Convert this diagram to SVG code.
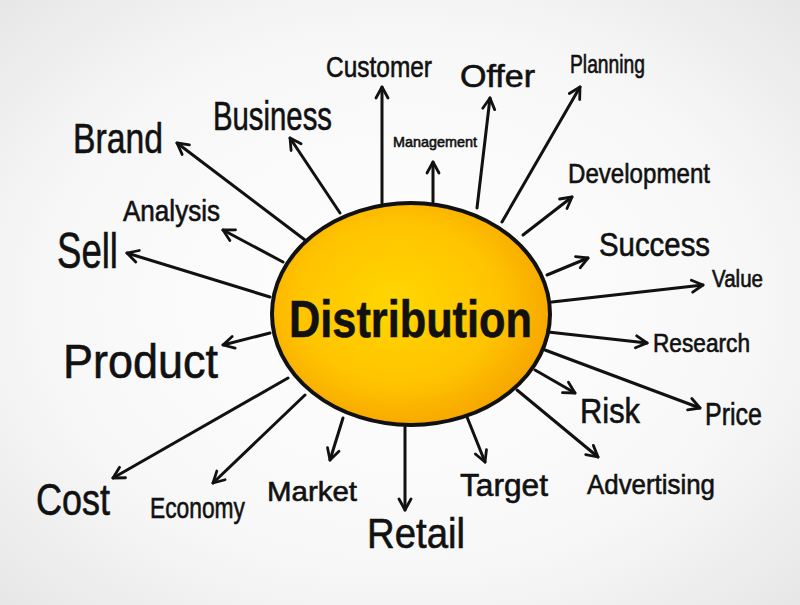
<svg xmlns="http://www.w3.org/2000/svg" width="800" height="605" viewBox="0 0 800 605">
<defs>
<radialGradient id="bg" cx="0.5" cy="0.5" r="0.75">
<stop offset="0" stop-color="#ffffff"/>
<stop offset="0.6" stop-color="#f7f7f7"/>
<stop offset="1" stop-color="#e4e4e4"/>
</radialGradient>
<radialGradient id="orb" cx="0.45" cy="0.45" r="0.6">
<stop offset="0" stop-color="#ffd600"/>
<stop offset="0.6" stop-color="#ffc400"/>
<stop offset="1" stop-color="#f5a200"/>
</radialGradient>
<marker id="ah" viewBox="0 0 16 16" markerWidth="16" markerHeight="16" refX="13" refY="8" orient="auto" markerUnits="userSpaceOnUse">
<path d="M2,2 L13,8 L2,14" fill="none" stroke="#111" stroke-width="2.8" stroke-linecap="round" stroke-linejoin="round"/>
</marker>
</defs>
<style>
.c line{stroke:#111;stroke-width:3;stroke-linecap:round;marker-end:url(#ah)}
text{font-family:"Liberation Sans","Open Sans",sans-serif;fill:#111;stroke:#111;stroke-width:0.6;lengthAdjust:spacingAndGlyphs}
</style>
<rect width="800" height="605" fill="url(#bg)"/>
<g class="c" id="connectors">
<line x1="305" y1="240" x2="177" y2="143"/>
<line x1="340" y1="213" x2="290" y2="138"/>
<line x1="382" y1="203" x2="382" y2="87"/>
<line x1="283" y1="262" x2="223" y2="230"/>
<line x1="270" y1="297" x2="127" y2="253"/>
<line x1="433" y1="202" x2="433" y2="162"/>
<line x1="477" y1="208" x2="490" y2="98"/>
<line x1="502" y1="222" x2="580" y2="87"/>
<line x1="523" y1="235" x2="572" y2="197"/>
<line x1="547" y1="275" x2="588" y2="258"/>
<line x1="552" y1="302" x2="703" y2="285"/>
<line x1="548" y1="332" x2="647" y2="343"/>
<line x1="545" y1="350" x2="700" y2="408"/>
<line x1="535" y1="370" x2="575" y2="393"/>
<line x1="517" y1="390" x2="598" y2="457"/>
<line x1="467" y1="417" x2="485" y2="462"/>
<line x1="405" y1="425" x2="405" y2="510"/>
<line x1="343" y1="418" x2="330" y2="460"/>
<line x1="305" y1="395" x2="213" y2="483"/>
<line x1="288" y1="378" x2="113" y2="478"/>
<line x1="270" y1="333" x2="223" y2="345"/>
</g>
<g id="center">
<ellipse cx="411" cy="314" rx="139" ry="111" fill="url(#orb)" stroke="#111" stroke-width="4"/>
<text x="289" y="337" font-size="52" font-weight="bold" textLength="243" lengthAdjust="spacingAndGlyphs">Distribution</text>
</g>
<g id="n-brand"><text x="73" y="153" font-size="42" textLength="90" lengthAdjust="spacingAndGlyphs">Brand</text></g>
<g id="n-business"><text x="213" y="130" font-size="40" textLength="119" lengthAdjust="spacingAndGlyphs">Business</text></g>
<g id="n-customer"><text x="326" y="77" font-size="30" textLength="106" lengthAdjust="spacingAndGlyphs">Customer</text></g>
<g id="n-management"><text x="393" y="147" font-size="15" textLength="84" lengthAdjust="spacingAndGlyphs">Management</text></g>
<g id="n-offer"><text x="460" y="87" font-size="31" textLength="75" lengthAdjust="spacingAndGlyphs">Offer</text></g>
<g id="n-planning"><text x="570" y="73" font-size="25" textLength="75" lengthAdjust="spacingAndGlyphs">Planning</text></g>
<g id="n-development"><text x="568" y="183" font-size="28" textLength="142" lengthAdjust="spacingAndGlyphs">Development</text></g>
<g id="n-success"><text x="599" y="256" font-size="34" textLength="111" lengthAdjust="spacingAndGlyphs">Success</text></g>
<g id="n-value"><text x="712" y="287" font-size="23" textLength="51" lengthAdjust="spacingAndGlyphs">Value</text></g>
<g id="n-analysis"><text x="123" y="221" font-size="29" textLength="97" lengthAdjust="spacingAndGlyphs">Analysis</text></g>
<g id="n-sell"><text x="57" y="268" font-size="50" textLength="61" lengthAdjust="spacingAndGlyphs">Sell</text></g>
<g id="n-product"><text x="63" y="378" font-size="48" textLength="155" lengthAdjust="spacingAndGlyphs">Product</text></g>
<g id="n-cost"><text x="36" y="515" font-size="44" textLength="74" lengthAdjust="spacingAndGlyphs">Cost</text></g>
<g id="n-economy"><text x="150" y="518" font-size="30" textLength="95" lengthAdjust="spacingAndGlyphs">Economy</text></g>
<g id="n-market"><text x="267" y="501" font-size="28" textLength="90" lengthAdjust="spacingAndGlyphs">Market</text></g>
<g id="n-retail"><text x="367" y="548" font-size="42" textLength="98" lengthAdjust="spacingAndGlyphs">Retail</text></g>
<g id="n-target"><text x="460" y="496" font-size="31" textLength="88" lengthAdjust="spacingAndGlyphs">Target</text></g>
<g id="n-advertising"><text x="587" y="494" font-size="28" textLength="128" lengthAdjust="spacingAndGlyphs">Advertising</text></g>
<g id="n-risk"><text x="580" y="423" font-size="35" textLength="60" lengthAdjust="spacingAndGlyphs">Risk</text></g>
<g id="n-price"><text x="705" y="425" font-size="31" textLength="57" lengthAdjust="spacingAndGlyphs">Price</text></g>
<g id="n-research"><text x="653" y="352" font-size="25" textLength="97" lengthAdjust="spacingAndGlyphs">Research</text></g>
</svg>
